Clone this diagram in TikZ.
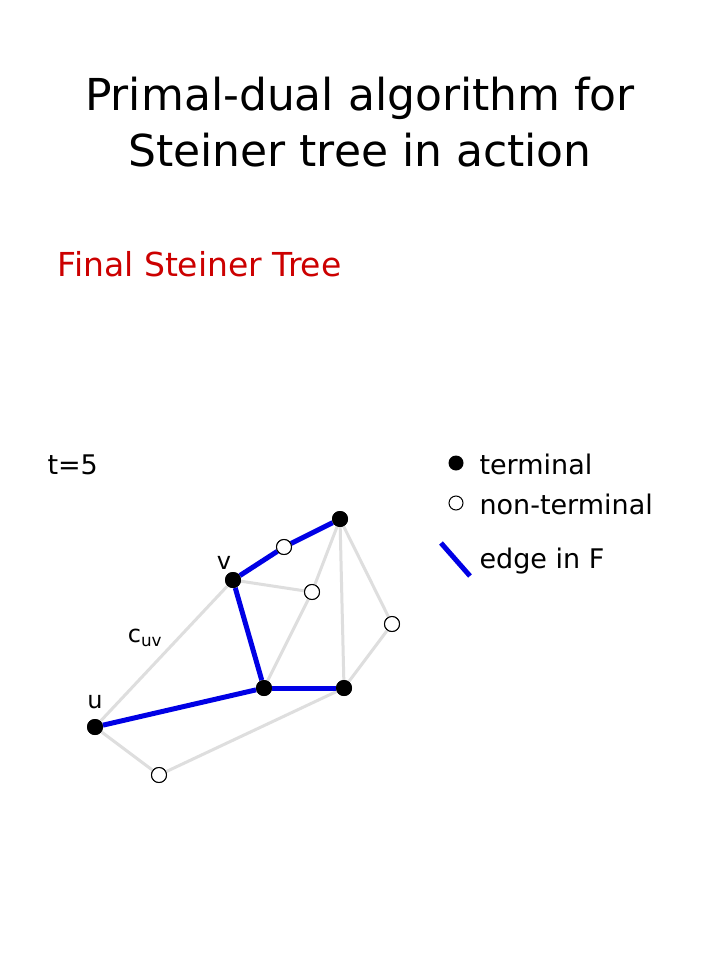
\documentclass[tikz,border=0pt]{standalone}
\usepackage{fontspec}
\setmainfont{DejaVu Sans}
\begin{document}
\begin{tikzpicture}[x=1pt,y=-1pt,
    term/.style={circle,fill=black,inner sep=0pt,minimum size=16pt},
    nonterm/.style={circle,draw=black,fill=white,inner sep=0pt,minimum size=15pt,line width=1pt},
    grayedge/.style={draw=black!13,line width=3pt},
    treeedge/.style={draw=blue!90!black,line width=5pt},
    lbl/.style={font=\fontsize{24}{28}\selectfont},
    legtext/.style={anchor=west,font=\fontsize{27}{32}\selectfont}]
    % Rahmen
    \useasboundingbox[fill=white] (0,0) rectangle (720,960);

    % Titel
    \node[align=center,font=\fontsize{44}{56}\selectfont] (title) at (360,122)
        {Primal-dual algorithm for\\Steiner tree in action};
    \node[anchor=west,text=red!80!black,font=\fontsize{33}{40}\selectfont] (sub) at (54,264) {Final Steiner Tree};
    \node[anchor=west,font=\fontsize{27}{32}\selectfont] (time) at (44,465) {t=5};

    % Knoten
    \node[term] (a) at (340,519) {};
    \node[nonterm] (b) at (284,547) {};
    \node[term] (v) at (233,580) {};
    \node[nonterm] (c) at (312,592) {};
    \node[nonterm] (d) at (392,624) {};
    \node[term] (e) at (264,688) {};
    \node[term] (f) at (344,688) {};
    \node[term] (u) at (95,727) {};
    \node[nonterm] (g) at (159,775) {};

    % Kanten
    \foreach \p/\q in {v/c,a/c,c/e,a/f,a/d,d/f,u/v,u/g,g/f}
        \path[grayedge] (\p) -- (\q);
    \foreach \p/\q in {a/b,b/v,v/e,e/f,u/e}
        \path[treeedge] (\p) -- (\q);
    % Knoten nochmals oben drauf
    \foreach \x/\y in {340/519,233/580,264/688,344/688,95/727}
        \node[term] at (\x,\y) {};
    \foreach \x/\y in {284/547,312/592,392/624,159/775}
        \node[nonterm] at (\x,\y) {};

    % Beschriftungen
    \node[lbl] (vl) at (224,563) {v};
    \node[lbl] (ul) at (95,702) {u};
    \node[lbl] (cl) at (145,638) {c$_{\mathrm{uv}}$};

    % Legende
    \node[term,minimum size=15pt] (lt) at (456,463) {};
    \node[nonterm,minimum size=14pt] (ln) at (456,503) {};
    \coordinate (la) at (441,543);
    \coordinate (lb) at (470,576);
    \path[treeedge] (la) -- (lb);
    \node[legtext] (tl) at (476,464) {terminal};
    \node[legtext] (nl) at (476,504) {non-terminal};
    \node[legtext] (el) at (476,561) {edge in F};
\end{tikzpicture}
\end{document}
